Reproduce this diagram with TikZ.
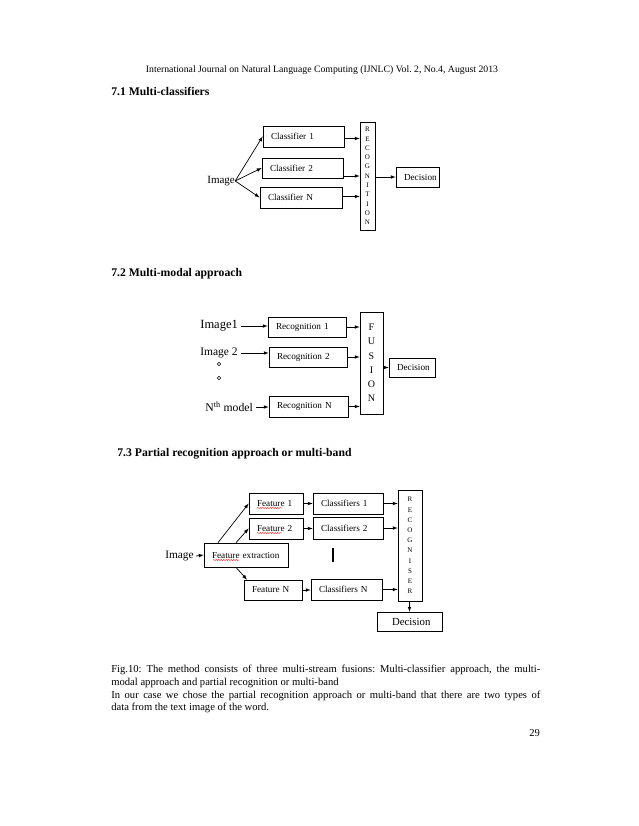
\documentclass[tikz,border=0pt]{standalone}
\usepackage{fontspec}
\setmainfont{Liberation Serif}
\usetikzlibrary{decorations.pathmorphing}
\frenchspacing

\tikzset{
  box/.style={draw, rectangle, inner xsep=8pt, inner ysep=0pt, align=left,
    font=\fontsize{9.2}{10}\selectfont},
  col/.style={draw, rectangle, inner sep=0pt, align=center},
  lbl/.style={inner sep=0pt, anchor=west},
  sec/.style={lbl, font=\bfseries\fontsize{11.7}{13}\selectfont},
  txt/.style={lbl, font=\fontsize{10.6}{12}\selectfont},
  wavy/.style={red, line width=0.4pt, decorate,
    decoration={snake, amplitude=0.5pt, segment length=2.5pt}},
}

\begin{document}
\begin{tikzpicture}[x=1pt, y=-1pt, >=latex, line width=0.7pt]
  \fill[white] (0,0) rectangle (638,826);
  \useasboundingbox (0,0) rectangle (638,826);

  % page text
  \node[font=\fontsize{9.75}{11}\selectfont] (head) at (322,70)
    {International Journal on Natural Language Computing (IJNLC) Vol. 2, No.4, August 2013};
  \node[sec] (sec1) at (111,91) {7.1 Multi-classifiers};
  \node[sec] (sec2) at (111,274) {7.2 Multi-modal approach};
  \node[sec] (sec3) at (117,454) {7.3 Partial recognition approach or multi-band};

  % 7.1
  \node[lbl, font=\fontsize{11}{12}\selectfont] (img1) at (207,181) {Image};
  \node[box, text width=65, minimum height=21] (c1) at (303.5,136.5) {Classifier 1};
  \node[box, text width=65, minimum height=20] (c2) at (302.5,168) {Classifier 2};
  \node[box, text width=66, minimum height=21] (cN) at (301,197.5) {Classifier N};
  \node[col, minimum width=15, minimum height=108,
        font=\fontsize{7}{9.3}\selectfont] (rec) at (367.5,176)
        {R\\E\\C\\O\\G\\N\\I\\T\\I\\O\\N};
  \node[box, text width=27, minimum height=20] (dec1) at (417.5,177) {Decision};

  \foreach \to in {c1, c2, cN}
    \draw[->] (img1.east) -- (\to.west);
  \foreach \from/\dy in {c1/-2, c2/-8, cN/1}
    \draw[->] ([yshift=\dy pt]\from.east) -- ([yshift=\dy pt]\from.east -| rec.west);
  \draw[->] (dec1.west -| rec.east) -- (dec1.west);

  % 7.2
  \node[lbl, font=\fontsize{12.5}{13}\selectfont] (i1) at (200,326) {Image1};
  \node[lbl, font=\fontsize{11.5}{13}\selectfont] (i2) at (200,353) {Image 2};
  \node[lbl, font=\fontsize{11.7}{13}\selectfont] (iN) at (205,407) {N\textsuperscript{th} model};
  \node[circle, draw, inner sep=0pt, minimum size=3.5, line width=0.4pt] (d1) at (219,364) {};
  \node[circle, draw, inner sep=0pt, minimum size=3.5, line width=0.4pt] (d2) at (219,378) {};
  \node[box, text width=62, minimum height=20] (r1) at (307,327) {Recognition 1};
  \node[box, text width=62, minimum height=20] (r2) at (308,357) {Recognition 2};
  \node[box, text width=63, minimum height=21] (rN) at (308.5,406.5) {Recognition N};
  \node[col, minimum width=23, minimum height=102,
        font=\fontsize{10}{14.2}\selectfont] (fus) at (371.5,363)
        {F\\U\\S\\I\\O\\N};
  \node[box, text width=30, minimum height=19] (dec2) at (412,367.5) {Decision};

  \foreach \from/\to in {i1/r1, i2/r2, iN/rN}
    \draw[->] ([xshift=3pt]\from.east) -- (\from.east -| \to.west);
  \foreach \from in {r1, r2, rN}
    \draw[->] (\from.east) -- (\from.east -| fus.west);
  \draw[->] (dec2.west -| fus.east) -- (dec2.west);

  % 7.3
  \node[lbl, font=\fontsize{11.3}{12}\selectfont] (img3) at (165,556) {Image};
  \node[box, text width=68, minimum height=24] (fe) at (246,555) {Feature extraction};
  \node[box, text width=38, minimum height=21] (f1) at (276,503.5) {Feature 1};
  \node[box, text width=38, minimum height=21] (f2) at (276,528.5) {Feature 2};
  \node[box, text width=42, minimum height=20] (fN) at (273,590) {Feature N};
  \node[box, text width=54, minimum height=21] (k1) at (348,503.5) {Classifiers 1};
  \node[box, text width=54, minimum height=22] (k2) at (348,528) {Classifiers 2};
  \node[box, text width=55, minimum height=21] (kN) at (346.5,589.5) {Classifiers N};
  \node[col, minimum width=24, minimum height=111,
        font=\fontsize{7}{10.2}\selectfont] (recg) at (410,545.5)
        {R\\E\\C\\O\\G\\N\\I\\S\\E\\R};
  \node[box, text width=49, inner xsep=8pt, minimum height=19,
        font=\fontsize{10.8}{12}\selectfont] (dec3) at (409.5,621.5) {\hspace*{7pt}Decision};
  \draw[line width=1.2pt] (333,548) -- (333,562);

  \draw[->] ([xshift=2pt]img3.east) -- (fe.west);
  \draw[->] ([xshift=-28pt]fe.north) -- (f1.west);
  \draw[->] ([xshift=-10pt]fe.north) -- (f2.west);
  \draw[->] ([xshift=-10pt]fe.south) -- ([xshift=-26pt]fN.north);
  \foreach \from/\to in {f1/k1, f2/k2, fN/kN}
    \draw[->] (\from.east) -- (\from.east -| \to.west);
  \foreach \from in {k1, k2, kN}
    \draw[->] (\from.east) -- (\from.east -| recg.west);
  \draw[->] (recg.south -| dec3.north) -- (dec3.north);

  % spelling marks
  \draw[wavy] (257,508) -- (282,508);
  \draw[wavy] (257,533) -- (282,533);
  \draw[wavy] (213,560) -- (239,560);

  % caption
  \node[txt] (cap1) at (111,670) {\makebox[429pt][s]{Fig.10: The method consists of three multi-stream fusions: Multi-classifier approach, the multi-}};
  \node[txt] (cap2) at (111,683) {modal approach and partial recognition or multi-band};
  \node[txt] (cap3) at (111,696) {\makebox[429pt][s]{In our case we chose the partial recognition approach or multi-band that there are two types of}};
  \node[txt] (cap4) at (111,708) {data from the text image of the word.};
  \node[txt] (pg) at (529,733) {29};
\end{tikzpicture}
\end{document}
